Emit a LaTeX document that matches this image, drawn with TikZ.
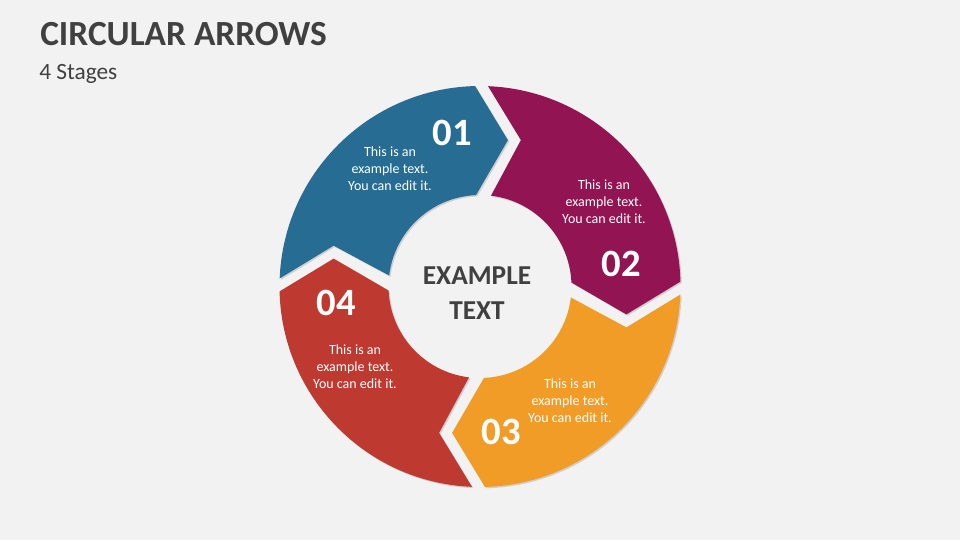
\documentclass[tikz,border=0pt]{standalone}
\usepackage{fontspec}
\setmainfont{Carlito}
\usetikzlibrary{shadows}

\definecolor{bggray}{RGB}{242,242,242}
\definecolor{darktext}{RGB}{64,64,64}
\definecolor{stageblue}{RGB}{39,108,146}
\definecolor{stagepurple}{RGB}{147,20,82}
\definecolor{stageorange}{RGB}{241,156,39}
\definecolor{stagered}{RGB}{190,57,48}

\begin{document}
\begin{tikzpicture}[x=0.75pt,y=0.75pt,
    stage/.style={drop shadow={shadow xshift=1pt,shadow yshift=-1pt,opacity=0.3}},
    note/.style={text=white,align=center,font=\fontsize{10.5}{12.75}\selectfont},
    num/.style={text=white,font=\fontsize{29}{35}\selectfont\bfseries}]
       \fill[bggray] (0,0) rectangle (960,540);
       \useasboundingbox (0,0) rectangle (960,540);

       \node[anchor=base west,inner sep=0pt,text=darktext,font=\fontsize{26.5}{32}\selectfont\bfseries] (title) at (40,494) {CIRCULAR ARROWS};
       \node[anchor=base west,inner sep=0pt,text=darktext,font=\fontsize{17.5}{21}\selectfont] (subtitle) at (39,460) {4 Stages};

       \foreach \rot/\col in {0/stageblue,-90/stagepurple,-180/stageorange,-270/stagered}
         \fill[\col,stage,shift={(480,253.5)},rotate=\rot]
           (177.7:200.5) arc[start angle=177.7,end angle=91.4,radius=200.5]
           -- (79.2:149) -- (92.5:91.5) arc[start angle=92.5,end angle=173.1,radius=91.5]
           -- (164.4:152) -- cycle;

       \node[text=darktext,align=center,font=\fontsize{20.5}{26}\selectfont\bfseries] (center) at (477,247) {EXAMPLE\\TEXT};

       \node[num] (n1) at (452,407) {01};
       \node[num] (n2) at (621,276) {02};
       \node[num] (n3) at (501,108) {03};
       \node[num] (n4) at (336,237) {04};

       \node[note] (t1) at (390,371) {This is an\\example text.\\You can edit it.};
       \node[note] (t2) at (604,338) {This is an\\example text.\\You can edit it.};
       \node[note] (t3) at (570,139) {This is an\\example text.\\You can edit it.};
       \node[note] (t4) at (355,173) {This is an\\example text.\\You can edit it.};
     \end{tikzpicture}
\end{document}
